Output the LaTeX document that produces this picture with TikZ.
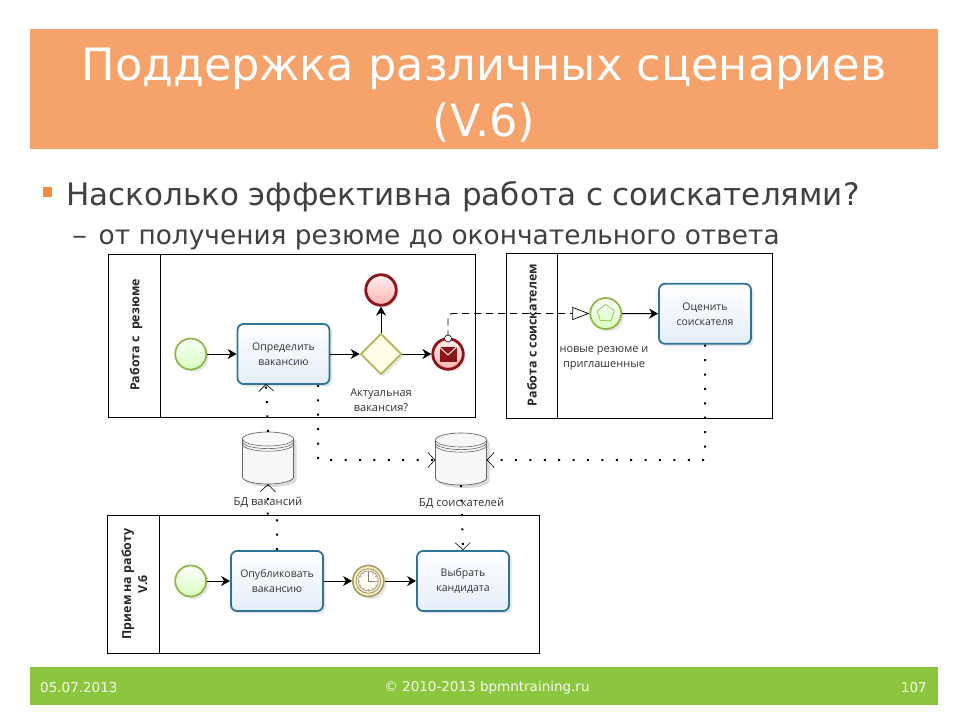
\documentclass[tikz,border=0pt]{standalone}
\usepackage{fontspec}
\setmainfont{DejaVu Sans}
\newfontfamily\dia{Open Sans}
\usetikzlibrary{arrows.meta,shadows,shapes.geometric,calc}
\definecolor{hdr}{HTML}{F5A26B}
\definecolor{ftr}{HTML}{8CC63F}
\definecolor{txt}{HTML}{404040}
\definecolor{bull}{HTML}{F58A42}
\definecolor{tborder}{HTML}{2F7396}
\definecolor{tlow}{HTML}{E4EEF8}
\definecolor{sborder}{HTML}{8DB543}
\definecolor{eborder}{HTML}{8B1518}
\definecolor{gborder}{HTML}{B3B65A}
\definecolor{tiborder}{HTML}{A59B5F}
\tikzset{
  softshadow/.style={drop shadow={opacity=.2,shadow xshift=2.5pt,shadow yshift=-2.5pt}},
  lane/.style={draw=black,line width=1pt,fill=white,inner sep=0pt},
  lanelabel/.style={rotate=90,font=\dia\bfseries\fontsize{12.4}{16}\selectfont,align=center,text=black!85,inner sep=0pt},
  taskbox/.style={draw=tborder,line width=1.8pt,rounded corners=6pt,top color=white,bottom color=tlow,minimum width=92pt,minimum height=60pt,align=center,font=\dia\fontsize{10.5}{15}\selectfont,text=black!80,softshadow,inner sep=0pt},
  startev/.style={circle,draw=sborder,line width=1.7pt,top color=green!2,bottom color=green!60!yellow!25,minimum size=31pt,inner sep=0pt,softshadow},
  endev/.style={circle,draw=eborder,line width=2.8pt,top color=red!6,bottom color=red!30,minimum size=30.5pt,inner sep=0pt,softshadow},
  gate/.style={diamond,draw=gborder,line width=1.7pt,fill=yellow!10,minimum size=41pt,inner sep=0pt,aspect=1,softshadow},
  timerev/.style={circle,draw=tiborder,line width=1.6pt,fill=yellow!30!orange!15,minimum size=31pt,inner sep=0pt,softshadow},
  seqflow/.style={draw=black,line width=1pt,-{Stealth[length=9pt,width=10pt]}},
  msgflow/.style={draw=black,line width=.9pt,dash pattern=on 7pt off 5pt,rounded corners=4pt,-{Triangle[open,length=17pt,width=13pt,line width=.7pt,fill=white]}},
  assoc/.style={draw=black,line width=2pt,dash pattern=on 2pt off 12.4pt,rounded corners=2pt,-{Straight Barb[length=7pt,width=15pt,line width=.6pt]}},
  dbnode/.style={minimum width=51pt,minimum height=52pt,inner sep=0pt},
  dblabel/.style={font=\dia\fontsize{11.2}{13}\selectfont,text=black!80,inner sep=0pt},
  caption/.style={font=\dia\fontsize{11}{15}\selectfont,text=black!80,align=center,inner sep=0pt}
}
\newcommand{\dbpath}{(-25.5,-19) arc[start angle=180,end angle=360,x radius=25.5,y radius=7]
      -- (25.5,19) arc[start angle=0,end angle=180,x radius=25.5,y radius=7] -- cycle}
\newcommand{\dbshape}[1]{%
  \begin{scope}[shift={(#1.center)}]
    \fill[black,opacity=.14,shift={(3,3)}] \dbpath;
    \draw[line width=.7pt,draw=black!60,fill=black!3] \dbpath;
    \foreach \d in {0,2.6,5.2}
      \draw[line width=.6pt,draw=black!60] (-25.5,-19+\d) arc[start angle=180,end angle=0,x radius=25.5,y radius=7];
  \end{scope}}
\begin{document}
\begin{tikzpicture}[x=1pt,y=-1pt]
\useasboundingbox (0,0) rectangle (960,720);
\fill[white] (0,0) rectangle (960,720);
% slide frame
\fill[hdr] (30,29) rectangle (938,149);
\fill[ftr] (30,667) rectangle (938,705);
\node[font=\fontsize{44.6}{56}\selectfont,text=white,align=center,inner sep=0pt] (title) at (484,95) {Поддержка различных сценариев\\(V.6)};
\fill[bull] (43,187) rectangle (52,197);
\node[anchor=west,font=\fontsize{31}{36}\selectfont,text=txt,inner sep=0pt] (b1) at (66,196.5) {Насколько эффективна работа с соискателями?};
\node[anchor=west,font=\fontsize{26.4}{32}\selectfont,text=txt,inner sep=0pt] (b2) at (72,240) {\resizebox{15pt}{\height}{–}\hspace{3pt} от получения резюме до окончательного ответа};
\node[anchor=west,font=\fontsize{13.5}{16}\selectfont,text=white!92!ftr,inner sep=0pt] (fd) at (40,688) {05.07.2013};
\node[font=\fontsize{13.5}{16}\selectfont,text=white!92!ftr,inner sep=0pt] (fc) at (487,688) {© 2010-2013 bpmntraining.ru};
\node[anchor=east,font=\fontsize{13.5}{16}\selectfont,text=white!92!ftr,inner sep=0pt] (fn) at (927,688) {107};
% lanes
\draw[lane] (108.5,254.5) rectangle (475.5,417);
\draw[lane] (160.5,254.5) -- (160.5,417);
\draw[lane] (506.7,253) rectangle (772.7,418);
\draw[lane] (557.3,253) -- (557.3,418);
\draw[lane] (107.5,515.5) rectangle (539.3,653.3);
\draw[lane] (159.3,515.5) -- (159.3,653.3);
\node[lanelabel] (l1) at (136,335) {Работа с\ \ резюме};
\node[lanelabel] (l2) at (532,335) {Работа с соискателем};
\node[lanelabel] (l3) at (134.5,584) {Прием на работу\\V.6};
% nodes lane 1
\node[startev] (s1) at (190.7,354) {};
\node[taskbox] (t1) at (283.5,354) {Определить\\вакансию};
\node[gate] (g1) at (381,354) {};
\node[endev] (e1) at (381,290) {};
\node[endev] (m1) at (448,354) {};
\fill[eborder] (439.5,347) rectangle (456.5,361.5);
\draw[white,line width=.9pt] (439.5,347) -- (448,355) -- (456.5,347);
\node[caption] (c1) at (381,400.5) {Актуальная\\вакансия?};
\coordinate (ring) at (448,338.5);
% nodes lane 2
\node[startev] (s2) at (605.7,313.5) {};
\node[regular polygon,regular polygon sides=5,draw=sborder,line width=.6pt,minimum size=18pt,inner sep=0pt] (pent) at (605.7,313.5) {};
\node[taskbox] (t2) at (705,313.8) {Оценить\\соискателя};
\node[caption] (c2) at (604,358) {новые резюме и\\приглашенные};
% databases
\node[dbnode] (db1) at (268,458) {};
\node[dbnode] (db2) at (461,459) {};
\dbshape{db1}
\dbshape{db2}
\node[dblabel] (dl1) at (268,502.5) {БД вакансий};
\node[dblabel] (dl2) at (461.5,503.5) {БД соискателей};
% nodes lane 3
\node[startev] (s3) at (190.7,581) {};
\node[taskbox] (t3) at (277,581) {Опубликовать\\вакансию};
\node[timerev] (ti) at (368.3,581) {};
\draw[tiborder,line width=.9pt] (ti) circle[radius=12.3];
\draw[black!45,line width=.6pt,fill=yellow!6] (ti) circle[radius=10];
\foreach \a in {0,30,...,330}
  \draw[black!40,line width=.5pt] ($(ti)+(\a:8)$) -- ($(ti)+(\a:10)$);
\draw[black!50,line width=.6pt] (ti.center) -- ++(0,-8) (ti.center) -- ++(7,0);
\node[taskbox] (t4) at (463,581) {Выбрать\\кандидата};
% sequence flows
\draw[seqflow] (s1) -- (t1);
\draw[seqflow] (t1) -- (g1);
\draw[seqflow] (g1) -- (e1);
\draw[seqflow] (g1) -- (m1);
\draw[seqflow] (s2) -- (t2);
\draw[seqflow] (s3) -- (t3);
\draw[seqflow] (t3) -- (ti);
\draw[seqflow] (ti) -- (t4);
% message flow
\draw[msgflow] (m1.north) |- (s2.west);
\draw[line width=.6pt,draw=black,fill=white] (ring) circle[radius=3.5];
% data associations
\draw[assoc] ([xshift=34.5]t1.south) |- ([yshift=-1]db2.west);
\draw[assoc] (t2.south) |- ([yshift=-1]db2.east);
\draw[assoc] (db1.north) -- ([xshift=-17.5,yshift=1]t1.south);
\draw[assoc] (t3.north) |- (267.5,515) -- (db1.south);
\draw[assoc] (db2.south) -- (t4.north);
\end{tikzpicture}
\end{document}
